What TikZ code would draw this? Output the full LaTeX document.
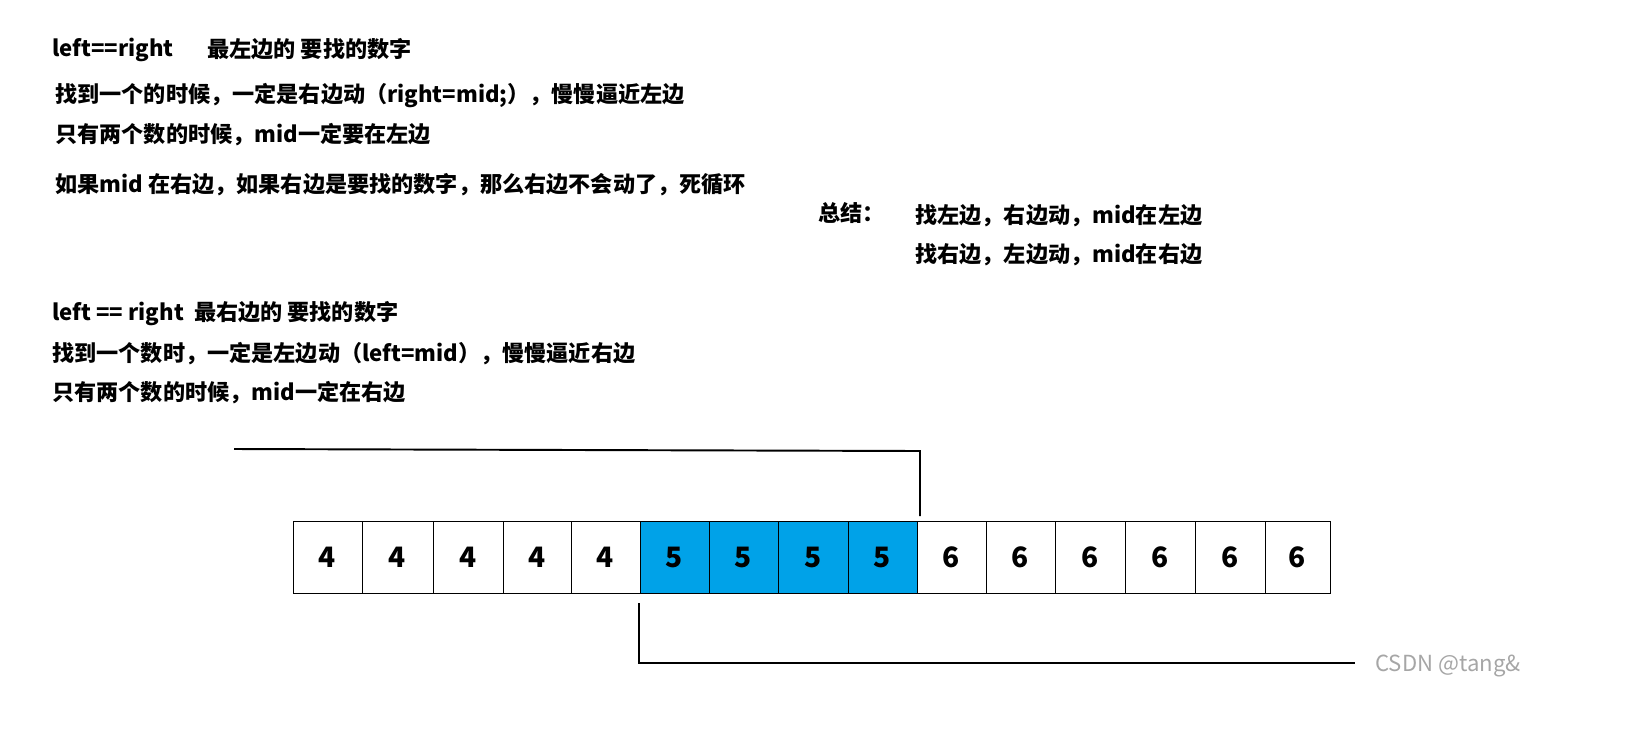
\documentclass[tikz,border=0pt]{standalone}
\usepackage{fontspec}
\newfontfamily\cjk{Noto Sans CJK SC}
\begin{document}
\begin{tikzpicture}[x=0.02cm,y=-0.02cm,
  txt/.style={anchor=west,inner sep=0pt,font=\cjk\bfseries\fontsize{12.6}{14}\selectfont},
  cell/.style={draw,line width=0.5pt,minimum height=72*0.02cm,inner sep=0pt,font=\cjk\bfseries\fontsize{16}{18}\selectfont},
  ln/.style={line width=1.1pt}]
\node[txt] (t1) at (52,50) {left==right};
\node[txt] (t1b) at (207,49) {最左边的 要找的数字};
\node[txt] (t2) at (55,96) {找到一个的时候，一定是右边动（right=mid;），慢慢逼近左边};
\node[txt] (t3) at (55,135) {只有两个数的时候，mid一定要在左边};
\node[txt] (t4) at (55,185) {如果mid 在右边，如果右边是要找的数字，那么右边不会动了，死循环};
\node[txt] (s0) at (818,213) {总结：};
\node[txt] (s1) at (915,216) {找左边，右边动，mid在左边};
\node[txt] (s2) at (915,255) {找右边，左边动，mid在右边};
\node[txt] (u1) at (52,314) {left == right\ \ 最右边的 要找的数字};
\node[txt] (u2) at (52,354) {找到一个数时，一定是左边动（left=mid），慢慢逼近右边};
\node[txt] (u3) at (52,393) {只有两个数的时候，mid一定在右边};
\foreach \a/\b/\v [count=\i] in {293/362/4,362/433/4,433/503/4,503/571/4,571/640/4,640/709/5,709/778/5,778/848/5,848/917/5,917/986/6,986/1055/6,1055/1125/6,1125/1195/6,1195/1265/6,1265/1330/6}{
  \pgfmathsetmacro\w{(\b-\a)*0.02}
  \ifnum\v=5
    \node[cell,fill={rgb,255:red,0;green,162;blue,232},minimum width=\w cm] (c\i) at ({(\a+\b)/2},557) {\v};
  \else
    \node[cell,minimum width=\w cm] (c\i) at ({(\a+\b)/2},557) {\v};
  \fi
}
\coordinate (a0) at (234,449);
\coordinate (a1) at (920,451);
\coordinate (a2) at (920,516);
\draw[ln] (a0) -- (a1) -- (a2);
\coordinate (b0) at (639,603);
\coordinate (b1) at (639,663);
\coordinate (b2) at (1355,663);
\draw[ln] (b0) -- (b1) -- (b2);
\node[anchor=west,inner sep=0pt,text=black!35,font=\cjk\fontsize{12.6}{14}\selectfont] (wm) at (1375,666) {CSDN @tang\&};
\pgfresetboundingbox
\useasboundingbox (0,0) rectangle (1647,731);
\end{tikzpicture}
\end{document}
